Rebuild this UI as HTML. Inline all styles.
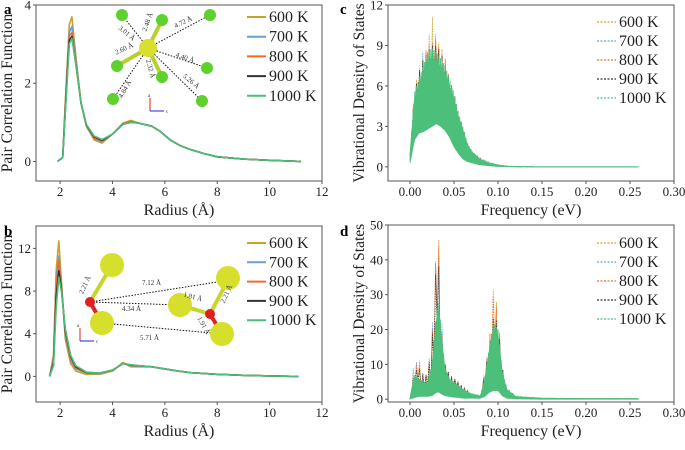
<!DOCTYPE html>
<html><head><meta charset="utf-8">
<style>
body{margin:0;background:#fff;}
svg, svg text{font-family:"Liberation Serif","DejaVu Serif",serif;}
</style></head>
<body>
<svg id="fig" width="685" height="445" viewBox="0 0 685 445" xmlns="http://www.w3.org/2000/svg" font-family="Liberation Serif, DejaVu Serif, serif">
  <text x="4" y="14" font-size="15" font-weight="bold">a</text>
  <text x="4" y="236" font-size="15" font-weight="bold">b</text>
  <text x="340" y="14" font-size="15" font-weight="bold">c</text>
  <text x="340" y="236" font-size="15" font-weight="bold">d</text>
  <g id="ga"></g>
  <g id="gb"></g>
  <g id="gc"></g>
  <g id="gd"></g>
  <g font-size="7" fill="#333">
    <line x1="148" y1="48" x2="122" y2="15" stroke="#111" stroke-dasharray="1.5,1.5"/>
    <line x1="148" y1="48" x2="210" y2="15" stroke="#111" stroke-dasharray="1.5,1.5"/>
    <line x1="148" y1="48" x2="207" y2="68" stroke="#111" stroke-dasharray="1.5,1.5"/>
    <line x1="148" y1="48" x2="202" y2="101" stroke="#111" stroke-dasharray="1.5,1.5"/>
    <line x1="148" y1="48" x2="113" y2="99" stroke="#111" stroke-dasharray="1.5,1.5"/>
    <line x1="148" y1="48" x2="162" y2="20" stroke="#b9cf2a" stroke-width="4"/>
    <line x1="148" y1="48" x2="117" y2="66" stroke="#b9cf2a" stroke-width="4"/>
    <line x1="148" y1="48" x2="162" y2="77" stroke="#b9cf2a" stroke-width="4"/>
    <circle cx="148" cy="48" r="9" fill="#d8df2c"/>
    <circle cx="122" cy="15" r="6" fill="#5fd12f"/>
    <circle cx="162" cy="20" r="6" fill="#5fd12f"/>
    <circle cx="210" cy="15" r="6" fill="#5fd12f"/>
    <circle cx="117" cy="66" r="6" fill="#5fd12f"/>
    <circle cx="207" cy="68" r="6" fill="#5fd12f"/>
    <circle cx="162" cy="77" r="6" fill="#5fd12f"/>
    <circle cx="113" cy="99" r="6" fill="#5fd12f"/>
    <circle cx="202" cy="101" r="6" fill="#5fd12f"/>
    <text x="117" y="32" transform="rotate(40 122 32)">3.01 Å</text>
    <text x="143" y="27" transform="rotate(-70 148 27)">2.48 Å</text>
    <text x="175" y="26" transform="rotate(-25 180 26)">4.72 Å</text>
    <text x="116" y="53" transform="rotate(-25 120 53)">2.60 Å</text>
    <text x="175" y="58" transform="rotate(20 180 58)">4.40 Å</text>
    <text x="146" y="60" transform="rotate(75 146 60)">2.32 Å</text>
    <text x="182" y="78" transform="rotate(40 184 78)">5.26 Å</text>
    <text x="120" y="95" transform="rotate(-60 124 95)">4.84 Å</text>
    <line x1="150" y1="111" x2="150" y2="98" stroke="#d22" stroke-width="1"/>
    <line x1="150" y1="111" x2="164" y2="111" stroke="#22d" stroke-width="1"/>
    <text x="148" y="97" font-size="5">a</text><text x="166" y="113" font-size="5">c</text>
  </g>
  <g font-size="7" fill="#333">
    <line x1="90" y1="302" x2="230" y2="280" stroke="#111" stroke-dasharray="1.5,1.5"/>
    <line x1="90" y1="302" x2="180" y2="305" stroke="#111" stroke-dasharray="1.5,1.5"/>
    <line x1="102" y1="323" x2="223" y2="334" stroke="#111" stroke-dasharray="1.5,1.5"/>
    <line x1="90" y1="302" x2="112" y2="265" stroke="#c8d42a" stroke-width="4"/>
    <line x1="90" y1="302" x2="102" y2="323" stroke="#d22" stroke-width="4"/>
    <line x1="210" y1="314" x2="180" y2="305" stroke="#c8d42a" stroke-width="4"/>
    <line x1="210" y1="314" x2="228" y2="280" stroke="#c8d42a" stroke-width="4"/>
    <line x1="210" y1="314" x2="222" y2="334" stroke="#d22" stroke-width="4"/>
    <circle cx="112" cy="265" r="12" fill="#d6df2c"/>
    <circle cx="102" cy="323" r="12" fill="#d6df2c"/>
    <circle cx="180" cy="305" r="12" fill="#d6df2c"/>
    <circle cx="228" cy="278" r="12" fill="#d6df2c"/>
    <circle cx="222" cy="334" r="12" fill="#d6df2c"/>
    <circle cx="90" cy="302" r="5" fill="#e02020"/>
    <circle cx="210" cy="314" r="5" fill="#e02020"/>
    <text x="142" y="285">7.12 Å</text>
    <text x="122" y="311">4.34 Å</text>
    <text x="140" y="340">5.71 Å</text>
    <text x="183" y="297" transform="rotate(15 185 297)">1.81 Å</text>
    <text x="80" y="290" transform="rotate(-65 85 290)">2.21 Å</text>
    <text x="222" y="300" transform="rotate(-65 226 300)">2.21 Å</text>
    <text x="196" y="320" transform="rotate(60 198 320)">1.91 Å</text>
    <line x1="80" y1="341" x2="80" y2="328" stroke="#d22"/>
    <line x1="80" y1="341" x2="94" y2="341" stroke="#22d"/>
    <text x="77" y="327" font-size="5">a</text><text x="96" y="343" font-size="5">c</text>
  </g>
</svg>
<script>
const temps = ["600 K","700 K","800 K","900 K","1000 K"];
const colors = ["#c9a227","#6a9fd4","#f26b2b","#333333","#4cbf7a"];
const rA = [1.9,2.1,2.25,2.35,2.45,2.6,2.8,3.0,3.3,3.6,4.0,4.4,4.7,5.0,5.5,5.8,6.2,6.6,7.0,7.5,8.0,9.0,10.0,11.2];
const gA600 = [0,0.1,2.2,3.5,3.7,2.7,1.5,0.9,0.55,0.47,0.7,0.98,1.05,0.98,0.9,0.78,0.55,0.4,0.3,0.2,0.12,0.06,0.03,0];
const gA700 = [0,0.1,2.1,3.3,3.45,2.6,1.5,0.92,0.58,0.5,0.7,0.97,1.02,0.98,0.9,0.78,0.55,0.4,0.3,0.2,0.12,0.06,0.03,0];
const gA800 = [0,0.1,2.0,3.2,3.3,2.55,1.5,0.93,0.6,0.52,0.7,0.96,1.03,0.98,0.9,0.78,0.55,0.4,0.3,0.2,0.12,0.06,0.03,0];
const gA900 = [0,0.1,1.9,3.1,3.2,2.5,1.5,0.94,0.63,0.54,0.7,0.95,1.0,0.98,0.9,0.78,0.55,0.4,0.3,0.2,0.12,0.06,0.03,0];
const gA1000 = [0,0.1,1.8,3.0,3.15,2.5,1.5,0.95,0.65,0.56,0.7,0.95,1.0,0.98,0.9,0.78,0.55,0.4,0.3,0.2,0.12,0.06,0.03,0];
const rB = [1.6,1.75,1.85,1.95,2.05,2.2,2.4,2.6,3.0,3.5,4.0,4.4,4.7,5.0,5.5,6.0,6.5,7.0,8.0,9.0,10.0,11.1];
const gB600 = [0,2,10,12.7,9,3.5,1.2,0.5,0.2,0.2,0.5,1.3,0.9,0.9,0.9,0.7,0.5,0.35,0.2,0.1,0.05,0];
const gB700 = [0,1.6,9,11.3,8.6,3.8,1.5,0.7,0.3,0.25,0.55,1.2,1.0,0.95,0.9,0.7,0.5,0.35,0.2,0.1,0.05,0];
const gB800 = [0,1.4,8.5,10.8,8.4,4,1.7,0.8,0.35,0.28,0.58,1.2,1.05,0.98,0.9,0.7,0.5,0.35,0.2,0.1,0.05,0];
const gB900 = [0,1.2,7.5,9.9,8.2,4.3,1.9,0.9,0.38,0.3,0.6,1.2,1.08,1.0,0.9,0.7,0.5,0.35,0.2,0.1,0.05,0];
const gB1000 = [0,1,6.5,9.3,8,4.5,2,1,0.4,0.3,0.6,1.2,1.1,1.0,0.9,0.7,0.5,0.35,0.2,0.1,0.05,0];
const fC = [0,0.005,0.01,0.015,0.02,0.025,0.03,0.035,0.04,0.045,0.05,0.055,0.06,0.065,0.07,0.08,0.09,0.1,0.11,0.12,0.15,0.2,0.26];
const vC600 = [1,6,7,8,9,11.3,9.5,9,8,6.5,5.5,4,3,1.8,1.2,0.6,0.3,0.15,0.05,0.02,0,0,0];
const vC700 = [1,5.5,7,8.7,8.5,9,9,8.5,7.5,6.5,5.5,4,3,1.8,1.2,0.6,0.3,0.15,0.05,0.02,0,0,0];
const vC800 = [1,5.5,7,8,9,9.2,9.6,8.5,8,6.5,5.5,4,3,1.8,1.2,0.6,0.3,0.15,0.05,0.02,0,0,0];
const vC900 = [1,5.5,7,8,8.5,9,9,8.5,7.5,6.5,5.5,4,3,1.8,1.2,0.6,0.3,0.15,0.05,0.02,0,0,0];
const vC1000 = [1,5.5,6.5,7.5,8.5,8.8,8.5,8,7.5,6.5,5.5,4,3,1.8,1.2,0.6,0.3,0.15,0.05,0.02,0,0,0];
const vCLow = [0.3,2,2.5,2.6,2.8,3,3.2,3,2.7,2.2,1.5,1,0.6,0.4,0.3,0.15,0.08,0.03,0.01,0,0,0,0];
const fD = [0,0.005,0.01,0.015,0.02,0.025,0.03,0.033,0.036,0.04,0.045,0.05,0.055,0.06,0.07,0.08,0.085,0.09,0.095,0.1,0.105,0.11,0.12,0.15,0.2,0.26];
const vD600 = [0.5,8,10,7,7,15,45,44,20,10,7,6,5,3.5,1.5,1,7,16,33,25,9,3,0.8,0.3,0.2,0.2];
const vD700 = [0.5,12,9,7,7,20,43,40,23,10,7,6,5,3.5,1.5,1,9,16,22,21,9,3,0.8,0.3,0.2,0.2];
const vD800 = [0.5,9,12,7,7,18,44,46,19,10,7,6,5,3.5,1.5,1,8,16,31,24,9,3,0.8,0.3,0.2,0.2];
const vD900 = [0.5,8,9,7,7,17,40,38,18,10,7,6,5,3.5,1.5,1,7,15,24,22,9,3,0.8,0.3,0.2,0.2];
const vD1000 = [0.5,7,6,5,5,10,25,28,18,9,6,5,4,3,1.5,1,6,15,22,20,8,3,0.8,0.3,0.2,0.2];
const vDLow = [0,0.5,0.8,0.8,0.8,1,2,2,1.5,1,0.8,0.6,0.5,0.3,0.3,0.3,0.8,2,2.5,2.5,1,0.3,0.1,0,0,0];
const ticksAx = [2,4,6,8,10,12], ticksAy = [0,2,4];
const ticksBy = [0,4,8,12];
const ticksCx = [0,0.05,0.1,0.15,0.2,0.25,0.3], ticksCy = [0,3,6,9,12];
const ticksDy = [0,10,20,30,40,50];

const NS="http://www.w3.org/2000/svg";
function mk(tag,attrs,parent){const e=document.createElementNS(NS,tag);for(const k in attrs)e.setAttribute(k,attrs[k]);parent.appendChild(e);return e;}
function lin(d0,d1,r0,r1){return v=>r0+(v-d0)/(d1-d0)*(r1-r0);}
function interp(xs,ys,x){for(let i=0;i<xs.length-1;i++){if(x>=xs[i]&&x<=xs[i+1]){const t=(x-xs[i])/(xs[i+1]-xs[i]);return ys[i]+t*(ys[i+1]-ys[i]);}}return 0;}

function frame(g,P,xt,yt,xfmt,ytitle,xtitle){
  const r=mk('rect',{x:P.l,y:P.t,width:P.r-P.l,height:P.b-P.t,fill:'none',stroke:'#555','stroke-width':1},g);
  
  
  xt.forEach(v=>{const x=P.x(v);
    const tk=mk('line',{x1:x,x2:x,y1:P.b,y2:P.b+3,stroke:'#555'},g);
    
    
    const t=mk('text',{x:x,y:P.b+15,'font-size':13,'text-anchor':'middle',fill:'#222'},g);t.textContent=xfmt(v);
    
    });
  yt.forEach(v=>{const y=P.y(v);
    const tk=mk('line',{x1:P.l-3,x2:P.l,y1:y,y2:y,stroke:'#555'},g);
    
    
    const t=mk('text',{x:P.l-5,y:y+4.5,'font-size':13,'text-anchor':'end',fill:'#222'},g);t.textContent=String(v);
    
    });
  const cy=(P.t+P.b)/2;
  const yt2=mk('text',{x:P.l-24,y:cy,'font-size':15.5,'text-anchor':'middle',fill:'#222',transform:`rotate(-90 ${P.l-24} ${cy})`},g);yt2.textContent=ytitle;
  
  
  const xt2=mk('text',{x:(P.l+P.r)/2,y:P.b+34,'font-size':16,'text-anchor':'middle',fill:'#222'},g);xt2.textContent=xtitle;
  
  
}
function legend(g,x0,y0,dy,dashed){
  temps.forEach((t,i)=>{const y=y0+i*dy;
    const l=mk('line',{x1:x0,x2:x0+19,y1:y,y2:y,stroke:colors[i],'stroke-width':dashed?1.3:2,'stroke-dasharray':dashed?'2,1.5':'none'},g);
    
    
    const tx=mk('text',{x:x0+22,y:y+5,'font-size':16,fill:'#222'},g);tx.textContent=t;
    
    });
}
function curve(g,P,xs,ys,c){
  const d=xs.map((x,i)=>(i?'L':'M')+P.x(x).toFixed(1)+','+P.y(ys[i]).toFixed(1)).join('');
  const p=mk('path',{d:d,fill:'none',stroke:c,'stroke-width':1.6,'stroke-linejoin':'round'},g);
  
  
}
function band(g,P,xs,up,low,c,fill){
  const x0=P.x(xs[0]),x1=P.x(xs[xs.length-1]);
  if(fill){
    let top='',bot=[];
    for(let px=x0;px<=x1;px+=1){const f=P.xi(px);
      top+=(top?'L':'M')+px.toFixed(1)+','+P.y(interp(xs,up,f)*0.92).toFixed(1);
      bot.unshift('L'+px.toFixed(1)+','+P.y(interp(xs,low,f)).toFixed(1));}
    const a=mk('path',{d:top+bot.join('')+'Z',fill:c,stroke:c,'stroke-width':0.8},g);
    
    
  }
  let d='';let k=0;
  for(let px=x0;px<=x1;px+=(fill?0.8:1.6)){const f=P.xi(px);
    const u=interp(xs,up,f),lo=interp(xs,low,f);
    const v=(k%2===0)?u:lo+(u-lo)*((k%6)/10);k++;
    d+=(d?'L':'M')+px.toFixed(1)+','+P.y(v).toFixed(1);}
  const p=mk('path',{d:d,fill:'none',stroke:c,'stroke-width':fill?0.9:0.7,'stroke-dasharray':fill?'none':'1.5,1'},g);
  
  
}
function panel(id,l,r,t,b,xd,yd){const P={l,r,t,b};P.x=lin(xd[0],xd[1],l,r);P.xi=lin(l,r,xd[0],xd[1]);P.y=lin(yd[0],yd[1],b,t);P.g=document.getElementById(id);return P;}

const A=panel('ga',36,322,5,181,[1.08,12],[-0.5,4]);
frame(A.g,A,ticksAx,ticksAy,v=>String(v),'Pair Correlation Function','Radius (Å)');
[gA600,gA700,gA800,gA900,gA1000].forEach((s,i)=>curve(A.g,A,rA,s,colors[i]));
legend(A.g,247,17,19.7,false);
const B=panel('gb',36,322,226,402,[1.08,12],[-2.4,14.1]);
frame(B.g,B,ticksAx,ticksBy,v=>String(v),'Pair Correlation Function','Radius (Å)');
[gB600,gB700,gB800,gB900,gB1000].forEach((s,i)=>curve(B.g,B,rB,s,colors[i]));
legend(B.g,247,243,19.3,false);
const C=panel('gc',388,674,5,181,[-0.025,0.3],[-1.05,12]);
frame(C.g,C,ticksCx,ticksCy,v=>v.toFixed(2),'Vibrational Density of States','Frequency (eV)');
[vC600,vC700,vC800,vC900].forEach((s,i)=>band(C.g,C,fC,s,vCLow,colors[i],false));
band(C.g,C,fC,vC1000,vCLow,colors[4],true);
legend(C.g,597,22,19,true);
const D=panel('gd',388,674,225,402,[-0.025,0.3],[-0.8,50]);
frame(D.g,D,ticksCx,ticksDy,v=>v.toFixed(2),'Vibrational Density of States','Frequency (eV)');
[vD600,vD700,vD800,vD900].forEach((s,i)=>band(D.g,D,fD,s,vDLow,colors[i],false));
band(D.g,D,fD,vD1000,vDLow,colors[4],true);
legend(D.g,597,243,19,true);
</script>
</body></html>
